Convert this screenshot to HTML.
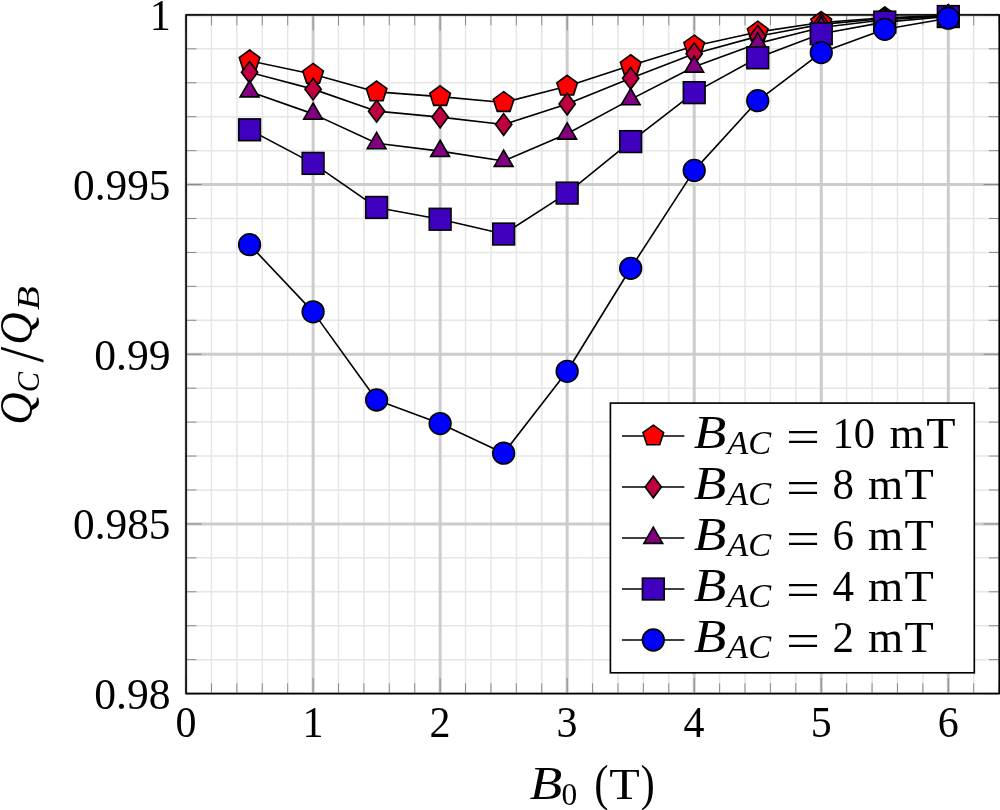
<!DOCTYPE html>
<html><head><meta charset="utf-8"><title>Q_C/Q_B vs B_0</title>
<style>
html,body{margin:0;padding:0;background:#fff}
body{width:1000px;height:810px;overflow:hidden}
svg{display:block}
text{fill:#000}
.r{font-family:"Liberation Serif","DejaVu Serif",serif}
.i{font-family:"Liberation Serif","DejaVu Serif",serif;font-style:italic}
</style></head><body>
<svg width="1000" height="810" viewBox="0 0 1000 810">
<rect width="1000" height="810" fill="#fff"/>
<path d="M211.46 14.9V693.6M236.87 14.9V693.6M262.27 14.9V693.6M287.68 14.9V693.6M338.5 14.9V693.6M363.91 14.9V693.6M389.31 14.9V693.6M414.72 14.9V693.6M465.54 14.9V693.6M490.95 14.9V693.6M516.35 14.9V693.6M541.76 14.9V693.6M592.58 14.9V693.6M617.99 14.9V693.6M643.39 14.9V693.6M668.8 14.9V693.6M719.62 14.9V693.6M745.03 14.9V693.6M770.43 14.9V693.6M795.84 14.9V693.6M846.66 14.9V693.6M872.07 14.9V693.6M897.47 14.9V693.6M922.88 14.9V693.6M973.7 14.9V693.6M186.05 48.84H999.2M186.05 82.77H999.2M186.05 116.71H999.2M186.05 150.64H999.2M186.05 218.51H999.2M186.05 252.45H999.2M186.05 286.38H999.2M186.05 320.31H999.2M186.05 388.19H999.2M186.05 422.12H999.2M186.05 456.06H999.2M186.05 489.99H999.2M186.05 557.86H999.2M186.05 591.79H999.2M186.05 625.73H999.2M186.05 659.67H999.2" stroke="#e6e6e6" stroke-width="1.5" fill="none"/>
<path d="M186.05 14.9V693.6M313.09 14.9V693.6M440.13 14.9V693.6M567.17 14.9V693.6M694.21 14.9V693.6M821.25 14.9V693.6M948.29 14.9V693.6M186.05 14.9H999.2M186.05 184.58H999.2M186.05 354.25H999.2M186.05 523.93H999.2M186.05 693.6H999.2" stroke="#cccccc" stroke-width="3" fill="none"/>
<path d="M186.05 693.6v-15.6M186.05 14.9v15.6M211.46 693.6v-10.4M211.46 14.9v10.4M236.87 693.6v-10.4M236.87 14.9v10.4M262.27 693.6v-10.4M262.27 14.9v10.4M287.68 693.6v-10.4M287.68 14.9v10.4M313.09 693.6v-15.6M313.09 14.9v15.6M338.5 693.6v-10.4M338.5 14.9v10.4M363.91 693.6v-10.4M363.91 14.9v10.4M389.31 693.6v-10.4M389.31 14.9v10.4M414.72 693.6v-10.4M414.72 14.9v10.4M440.13 693.6v-15.6M440.13 14.9v15.6M465.54 693.6v-10.4M465.54 14.9v10.4M490.95 693.6v-10.4M490.95 14.9v10.4M516.35 693.6v-10.4M516.35 14.9v10.4M541.76 693.6v-10.4M541.76 14.9v10.4M567.17 693.6v-15.6M567.17 14.9v15.6M592.58 693.6v-10.4M592.58 14.9v10.4M617.99 693.6v-10.4M617.99 14.9v10.4M643.39 693.6v-10.4M643.39 14.9v10.4M668.8 693.6v-10.4M668.8 14.9v10.4M694.21 693.6v-15.6M694.21 14.9v15.6M719.62 693.6v-10.4M719.62 14.9v10.4M745.03 693.6v-10.4M745.03 14.9v10.4M770.43 693.6v-10.4M770.43 14.9v10.4M795.84 693.6v-10.4M795.84 14.9v10.4M821.25 693.6v-15.6M821.25 14.9v15.6M846.66 693.6v-10.4M846.66 14.9v10.4M872.07 693.6v-10.4M872.07 14.9v10.4M897.47 693.6v-10.4M897.47 14.9v10.4M922.88 693.6v-10.4M922.88 14.9v10.4M948.29 693.6v-15.6M948.29 14.9v15.6M973.7 693.6v-10.4M973.7 14.9v10.4M999.11 693.6v-10.4M999.11 14.9v10.4M186.05 14.9h15.6M999.2 14.9h-15.6M186.05 48.84h10.4M999.2 48.84h-10.4M186.05 82.77h10.4M999.2 82.77h-10.4M186.05 116.71h10.4M999.2 116.71h-10.4M186.05 150.64h10.4M999.2 150.64h-10.4M186.05 184.58h15.6M999.2 184.58h-15.6M186.05 218.51h10.4M999.2 218.51h-10.4M186.05 252.45h10.4M999.2 252.45h-10.4M186.05 286.38h10.4M999.2 286.38h-10.4M186.05 320.31h10.4M999.2 320.31h-10.4M186.05 354.25h15.6M999.2 354.25h-15.6M186.05 388.19h10.4M999.2 388.19h-10.4M186.05 422.12h10.4M999.2 422.12h-10.4M186.05 456.06h10.4M999.2 456.06h-10.4M186.05 489.99h10.4M999.2 489.99h-10.4M186.05 523.93h15.6M999.2 523.93h-15.6M186.05 557.86h10.4M999.2 557.86h-10.4M186.05 591.79h10.4M999.2 591.79h-10.4M186.05 625.73h10.4M999.2 625.73h-10.4M186.05 659.67h10.4M999.2 659.67h-10.4M186.05 693.6h15.6M999.2 693.6h-15.6" stroke="#7a7a7a" stroke-width="0.85" fill="none"/>
<rect x="186.05" y="14.9" width="813.15" height="678.7" fill="none" stroke="#000" stroke-width="1.6"/>
<clipPath id="c"><rect x="186.05" y="14.9" width="813.15" height="678.7"/></clipPath>
<g clip-path="url(#c)" fill="none" stroke="#000" stroke-width="1.62" stroke-linejoin="round">
<polyline points="249.57,60.86 313.09,74.29 376.61,91.92 440.13,96.64 503.65,102.56 567.17,86.18 630.69,65.58 694.21,46 757.73,32.06 821.25,22.44 884.77,17.78 948.29,15.56"/>
<polyline points="249.57,72.35 313.09,89.14 376.61,111.18 440.13,117.08 503.65,124.48 567.17,104 630.69,78.25 694.21,53.77 757.73,36.35 821.25,24.33 884.77,18.5 948.29,15.72"/>
<polyline points="249.57,91.5 313.09,113.88 376.61,143.27 440.13,151.13 503.65,161 567.17,133.7 630.69,99.37 694.21,66.73 757.73,43.5 821.25,27.47 884.77,19.7 948.29,16"/>
<polyline points="249.57,129.8 313.09,163.38 376.61,207.45 440.13,219.25 503.65,234.05 567.17,193.1 630.69,141.6 694.21,92.65 757.73,57.8 821.25,33.75 884.77,22.1 948.29,16.55"/>
<polyline points="249.57,244.7 313.09,311.85 376.61,400 440.13,423.6 503.65,453.2 567.17,371.3 630.69,268.3 694.21,170.4 757.73,100.7 821.25,52.6 884.77,29.3 948.29,18.2"/>
</g>
<polygon points="249.57,50.01 259.89,57.51 255.95,69.64 243.19,69.64 239.25,57.51" fill="#ff0000" stroke="#000" stroke-width="1.62" stroke-miterlimit="10"/>
<polygon points="313.09,63.44 323.41,70.94 319.47,83.07 306.71,83.07 302.77,70.94" fill="#ff0000" stroke="#000" stroke-width="1.62" stroke-miterlimit="10"/>
<polygon points="376.61,81.07 386.93,88.57 382.99,100.7 370.23,100.7 366.29,88.57" fill="#ff0000" stroke="#000" stroke-width="1.62" stroke-miterlimit="10"/>
<polygon points="440.13,85.79 450.45,93.29 446.51,105.42 433.75,105.42 429.81,93.29" fill="#ff0000" stroke="#000" stroke-width="1.62" stroke-miterlimit="10"/>
<polygon points="503.65,91.71 513.97,99.21 510.03,111.34 497.27,111.34 493.33,99.21" fill="#ff0000" stroke="#000" stroke-width="1.62" stroke-miterlimit="10"/>
<polygon points="567.17,75.33 577.49,82.83 573.55,94.96 560.79,94.96 556.85,82.83" fill="#ff0000" stroke="#000" stroke-width="1.62" stroke-miterlimit="10"/>
<polygon points="630.69,54.73 641.01,62.23 637.07,74.36 624.31,74.36 620.37,62.23" fill="#ff0000" stroke="#000" stroke-width="1.62" stroke-miterlimit="10"/>
<polygon points="694.21,35.15 704.53,42.65 700.59,54.78 687.83,54.78 683.89,42.65" fill="#ff0000" stroke="#000" stroke-width="1.62" stroke-miterlimit="10"/>
<polygon points="757.73,21.21 768.05,28.71 764.11,40.84 751.35,40.84 747.41,28.71" fill="#ff0000" stroke="#000" stroke-width="1.62" stroke-miterlimit="10"/>
<polygon points="821.25,11.59 831.57,19.09 827.63,31.22 814.87,31.22 810.93,19.09" fill="#ff0000" stroke="#000" stroke-width="1.62" stroke-miterlimit="10"/>
<polygon points="884.77,6.93 895.09,14.43 891.15,26.56 878.39,26.56 874.45,14.43" fill="#ff0000" stroke="#000" stroke-width="1.62" stroke-miterlimit="10"/>
<polygon points="948.29,4.71 958.61,12.21 954.67,24.34 941.91,24.34 937.97,12.21" fill="#ff0000" stroke="#000" stroke-width="1.62" stroke-miterlimit="10"/>
<polygon points="249.57,61.5 257.71,72.35 249.57,83.2 241.43,72.35" fill="#bf0040" stroke="#000" stroke-width="1.62" stroke-miterlimit="10"/>
<polygon points="313.09,78.29 321.23,89.14 313.09,99.99 304.95,89.14" fill="#bf0040" stroke="#000" stroke-width="1.62" stroke-miterlimit="10"/>
<polygon points="376.61,100.33 384.75,111.18 376.61,122.03 368.47,111.18" fill="#bf0040" stroke="#000" stroke-width="1.62" stroke-miterlimit="10"/>
<polygon points="440.13,106.23 448.27,117.08 440.13,127.93 431.99,117.08" fill="#bf0040" stroke="#000" stroke-width="1.62" stroke-miterlimit="10"/>
<polygon points="503.65,113.63 511.79,124.48 503.65,135.33 495.51,124.48" fill="#bf0040" stroke="#000" stroke-width="1.62" stroke-miterlimit="10"/>
<polygon points="567.17,93.15 575.31,104 567.17,114.85 559.03,104" fill="#bf0040" stroke="#000" stroke-width="1.62" stroke-miterlimit="10"/>
<polygon points="630.69,67.4 638.83,78.25 630.69,89.1 622.55,78.25" fill="#bf0040" stroke="#000" stroke-width="1.62" stroke-miterlimit="10"/>
<polygon points="694.21,42.92 702.35,53.77 694.21,64.62 686.07,53.77" fill="#bf0040" stroke="#000" stroke-width="1.62" stroke-miterlimit="10"/>
<polygon points="757.73,25.5 765.87,36.35 757.73,47.2 749.59,36.35" fill="#bf0040" stroke="#000" stroke-width="1.62" stroke-miterlimit="10"/>
<polygon points="821.25,13.48 829.39,24.33 821.25,35.18 813.11,24.33" fill="#bf0040" stroke="#000" stroke-width="1.62" stroke-miterlimit="10"/>
<polygon points="884.77,7.65 892.91,18.5 884.77,29.35 876.63,18.5" fill="#bf0040" stroke="#000" stroke-width="1.62" stroke-miterlimit="10"/>
<polygon points="948.29,4.88 956.43,15.72 948.29,26.57 940.15,15.72" fill="#bf0040" stroke="#000" stroke-width="1.62" stroke-miterlimit="10"/>
<polygon points="249.57,80.65 258.97,96.92 240.17,96.92" fill="#800080" stroke="#000" stroke-width="1.62" stroke-miterlimit="10"/>
<polygon points="313.09,103.03 322.49,119.31 303.69,119.31" fill="#800080" stroke="#000" stroke-width="1.62" stroke-miterlimit="10"/>
<polygon points="376.61,132.42 386.01,148.69 367.21,148.69" fill="#800080" stroke="#000" stroke-width="1.62" stroke-miterlimit="10"/>
<polygon points="440.13,140.28 449.53,156.56 430.73,156.56" fill="#800080" stroke="#000" stroke-width="1.62" stroke-miterlimit="10"/>
<polygon points="503.65,150.15 513.05,166.43 494.25,166.43" fill="#800080" stroke="#000" stroke-width="1.62" stroke-miterlimit="10"/>
<polygon points="567.17,122.85 576.57,139.13 557.77,139.13" fill="#800080" stroke="#000" stroke-width="1.62" stroke-miterlimit="10"/>
<polygon points="630.69,88.52 640.09,104.79 621.29,104.79" fill="#800080" stroke="#000" stroke-width="1.62" stroke-miterlimit="10"/>
<polygon points="694.21,55.88 703.61,72.16 684.81,72.16" fill="#800080" stroke="#000" stroke-width="1.62" stroke-miterlimit="10"/>
<polygon points="757.73,32.65 767.13,48.92 748.33,48.92" fill="#800080" stroke="#000" stroke-width="1.62" stroke-miterlimit="10"/>
<polygon points="821.25,16.62 830.65,32.89 811.85,32.89" fill="#800080" stroke="#000" stroke-width="1.62" stroke-miterlimit="10"/>
<polygon points="884.77,8.85 894.17,25.12 875.37,25.12" fill="#800080" stroke="#000" stroke-width="1.62" stroke-miterlimit="10"/>
<polygon points="948.29,5.15 957.69,21.42 938.89,21.42" fill="#800080" stroke="#000" stroke-width="1.62" stroke-miterlimit="10"/>
<rect x="238.72" y="118.95" width="21.7" height="21.7" fill="#4000bf" stroke="#000" stroke-width="1.62" stroke-miterlimit="10"/>
<rect x="302.24" y="152.53" width="21.7" height="21.7" fill="#4000bf" stroke="#000" stroke-width="1.62" stroke-miterlimit="10"/>
<rect x="365.76" y="196.6" width="21.7" height="21.7" fill="#4000bf" stroke="#000" stroke-width="1.62" stroke-miterlimit="10"/>
<rect x="429.28" y="208.4" width="21.7" height="21.7" fill="#4000bf" stroke="#000" stroke-width="1.62" stroke-miterlimit="10"/>
<rect x="492.8" y="223.2" width="21.7" height="21.7" fill="#4000bf" stroke="#000" stroke-width="1.62" stroke-miterlimit="10"/>
<rect x="556.32" y="182.25" width="21.7" height="21.7" fill="#4000bf" stroke="#000" stroke-width="1.62" stroke-miterlimit="10"/>
<rect x="619.84" y="130.75" width="21.7" height="21.7" fill="#4000bf" stroke="#000" stroke-width="1.62" stroke-miterlimit="10"/>
<rect x="683.36" y="81.8" width="21.7" height="21.7" fill="#4000bf" stroke="#000" stroke-width="1.62" stroke-miterlimit="10"/>
<rect x="746.88" y="46.95" width="21.7" height="21.7" fill="#4000bf" stroke="#000" stroke-width="1.62" stroke-miterlimit="10"/>
<rect x="810.4" y="22.9" width="21.7" height="21.7" fill="#4000bf" stroke="#000" stroke-width="1.62" stroke-miterlimit="10"/>
<rect x="873.92" y="11.25" width="21.7" height="21.7" fill="#4000bf" stroke="#000" stroke-width="1.62" stroke-miterlimit="10"/>
<rect x="937.44" y="5.7" width="21.7" height="21.7" fill="#4000bf" stroke="#000" stroke-width="1.62" stroke-miterlimit="10"/>
<circle cx="249.57" cy="244.7" r="10.85" fill="#0000ff" stroke="#000" stroke-width="1.62" stroke-miterlimit="10"/>
<circle cx="313.09" cy="311.85" r="10.85" fill="#0000ff" stroke="#000" stroke-width="1.62" stroke-miterlimit="10"/>
<circle cx="376.61" cy="400" r="10.85" fill="#0000ff" stroke="#000" stroke-width="1.62" stroke-miterlimit="10"/>
<circle cx="440.13" cy="423.6" r="10.85" fill="#0000ff" stroke="#000" stroke-width="1.62" stroke-miterlimit="10"/>
<circle cx="503.65" cy="453.2" r="10.85" fill="#0000ff" stroke="#000" stroke-width="1.62" stroke-miterlimit="10"/>
<circle cx="567.17" cy="371.3" r="10.85" fill="#0000ff" stroke="#000" stroke-width="1.62" stroke-miterlimit="10"/>
<circle cx="630.69" cy="268.3" r="10.85" fill="#0000ff" stroke="#000" stroke-width="1.62" stroke-miterlimit="10"/>
<circle cx="694.21" cy="170.4" r="10.85" fill="#0000ff" stroke="#000" stroke-width="1.62" stroke-miterlimit="10"/>
<circle cx="757.73" cy="100.7" r="10.85" fill="#0000ff" stroke="#000" stroke-width="1.62" stroke-miterlimit="10"/>
<circle cx="821.25" cy="52.6" r="10.85" fill="#0000ff" stroke="#000" stroke-width="1.62" stroke-miterlimit="10"/>
<circle cx="884.77" cy="29.3" r="10.85" fill="#0000ff" stroke="#000" stroke-width="1.62" stroke-miterlimit="10"/>
<circle cx="948.29" cy="18.2" r="10.85" fill="#0000ff" stroke="#000" stroke-width="1.62" stroke-miterlimit="10"/>
<rect x="610.4" y="403.1" width="363.9" height="269.7" fill="#fff" stroke="#000" stroke-width="1.65"/>
<path d="M622 436H684.4" stroke="#000" stroke-width="1.62"/>
<polygon points="653.3,425.15 663.62,432.65 659.68,444.78 646.92,444.78 642.98,432.65" fill="#ff0000" stroke="#000" stroke-width="1.62" stroke-miterlimit="10"/>
<text class="i" x="693.8" y="447.9" font-size="45.6" textLength="32.5" lengthAdjust="spacingAndGlyphs">B</text>
<text class="i" x="727.3" y="454.4" font-size="32.7" textLength="44" lengthAdjust="spacingAndGlyphs">AC</text>
<text class="r" x="786" y="452.1" font-size="46" textLength="34" lengthAdjust="spacingAndGlyphs">=</text>
<text class="r" x="832.5" y="448.1" font-size="44.7" textLength="42.5" lengthAdjust="spacingAndGlyphs">10</text>
<text class="r" x="889.6" y="447.9" font-size="44.3" textLength="35.2" lengthAdjust="spacingAndGlyphs">m</text><text class="r" x="926.2" y="447.9" font-size="44.3" textLength="29.3" lengthAdjust="spacingAndGlyphs">T</text>
<path d="M622 487H684.4" stroke="#000" stroke-width="1.62"/>
<polygon points="653.3,476.15 661.44,487 653.3,497.85 645.16,487" fill="#bf0040" stroke="#000" stroke-width="1.62" stroke-miterlimit="10"/>
<text class="i" x="693.8" y="498.9" font-size="45.6" textLength="32.5" lengthAdjust="spacingAndGlyphs">B</text>
<text class="i" x="727.3" y="505.4" font-size="32.7" textLength="44" lengthAdjust="spacingAndGlyphs">AC</text>
<text class="r" x="786" y="503.1" font-size="46" textLength="34" lengthAdjust="spacingAndGlyphs">=</text>
<text class="r" x="832.5" y="499.1" font-size="44.7" textLength="21.5" lengthAdjust="spacingAndGlyphs">8</text>
<text class="r" x="868.1" y="498.9" font-size="44.3" textLength="35.2" lengthAdjust="spacingAndGlyphs">m</text><text class="r" x="904.6" y="498.9" font-size="44.3" textLength="29.3" lengthAdjust="spacingAndGlyphs">T</text>
<path d="M622 538H684.4" stroke="#000" stroke-width="1.62"/>
<polygon points="653.3,527.15 662.7,543.42 643.9,543.42" fill="#800080" stroke="#000" stroke-width="1.62" stroke-miterlimit="10"/>
<text class="i" x="693.8" y="549.9" font-size="45.6" textLength="32.5" lengthAdjust="spacingAndGlyphs">B</text>
<text class="i" x="727.3" y="556.4" font-size="32.7" textLength="44" lengthAdjust="spacingAndGlyphs">AC</text>
<text class="r" x="786" y="554.1" font-size="46" textLength="34" lengthAdjust="spacingAndGlyphs">=</text>
<text class="r" x="832.5" y="550.1" font-size="44.7" textLength="21.5" lengthAdjust="spacingAndGlyphs">6</text>
<text class="r" x="868.1" y="549.9" font-size="44.3" textLength="35.2" lengthAdjust="spacingAndGlyphs">m</text><text class="r" x="904.6" y="549.9" font-size="44.3" textLength="29.3" lengthAdjust="spacingAndGlyphs">T</text>
<path d="M622 589H684.4" stroke="#000" stroke-width="1.62"/>
<rect x="642.45" y="578.15" width="21.7" height="21.7" fill="#4000bf" stroke="#000" stroke-width="1.62" stroke-miterlimit="10"/>
<text class="i" x="693.8" y="600.9" font-size="45.6" textLength="32.5" lengthAdjust="spacingAndGlyphs">B</text>
<text class="i" x="727.3" y="607.4" font-size="32.7" textLength="44" lengthAdjust="spacingAndGlyphs">AC</text>
<text class="r" x="786" y="605.1" font-size="46" textLength="34" lengthAdjust="spacingAndGlyphs">=</text>
<text class="r" x="832.5" y="601.1" font-size="44.7" textLength="21.5" lengthAdjust="spacingAndGlyphs">4</text>
<text class="r" x="868.1" y="600.9" font-size="44.3" textLength="35.2" lengthAdjust="spacingAndGlyphs">m</text><text class="r" x="904.6" y="600.9" font-size="44.3" textLength="29.3" lengthAdjust="spacingAndGlyphs">T</text>
<path d="M622 640H684.4" stroke="#000" stroke-width="1.62"/>
<circle cx="653.3" cy="640" r="10.85" fill="#0000ff" stroke="#000" stroke-width="1.62" stroke-miterlimit="10"/>
<text class="i" x="693.8" y="651.9" font-size="45.6" textLength="32.5" lengthAdjust="spacingAndGlyphs">B</text>
<text class="i" x="727.3" y="658.4" font-size="32.7" textLength="44" lengthAdjust="spacingAndGlyphs">AC</text>
<text class="r" x="786" y="656.1" font-size="46" textLength="34" lengthAdjust="spacingAndGlyphs">=</text>
<text class="r" x="832.5" y="652.1" font-size="44.7" textLength="21.5" lengthAdjust="spacingAndGlyphs">2</text>
<text class="r" x="868.1" y="651.9" font-size="44.3" textLength="35.2" lengthAdjust="spacingAndGlyphs">m</text><text class="r" x="904.6" y="651.9" font-size="44.3" textLength="29.3" lengthAdjust="spacingAndGlyphs">T</text>
<text class="r" x="175.45" y="737.3" font-size="44.7" textLength="21" lengthAdjust="spacingAndGlyphs">0</text>
<text class="r" x="302.49" y="737.3" font-size="44.7" textLength="21" lengthAdjust="spacingAndGlyphs">1</text>
<text class="r" x="429.53" y="737.3" font-size="44.7" textLength="21" lengthAdjust="spacingAndGlyphs">2</text>
<text class="r" x="556.57" y="737.3" font-size="44.7" textLength="21" lengthAdjust="spacingAndGlyphs">3</text>
<text class="r" x="683.61" y="737.3" font-size="44.7" textLength="21" lengthAdjust="spacingAndGlyphs">4</text>
<text class="r" x="810.65" y="737.3" font-size="44.7" textLength="21" lengthAdjust="spacingAndGlyphs">5</text>
<text class="r" x="937.69" y="737.3" font-size="44.7" textLength="21" lengthAdjust="spacingAndGlyphs">6</text>
<text class="r" x="149.7" y="30.2" font-size="44.7" textLength="21" lengthAdjust="spacingAndGlyphs">1</text>
<text class="r" x="73" y="199.88" font-size="44.7" textLength="97.5" lengthAdjust="spacingAndGlyphs">0.995</text>
<text class="r" x="94.3" y="369.55" font-size="44.7" textLength="76.3" lengthAdjust="spacingAndGlyphs">0.99</text>
<text class="r" x="73" y="539.23" font-size="44.7" textLength="97.5" lengthAdjust="spacingAndGlyphs">0.985</text>
<text class="r" x="94.3" y="708.9" font-size="44.7" textLength="76.3" lengthAdjust="spacingAndGlyphs">0.98</text>
<text class="i" x="529.8" y="798.9" font-size="45.6" textLength="32.5" lengthAdjust="spacingAndGlyphs">B</text>
<text class="r" x="561.5" y="805.4" font-size="30.5" textLength="15.7" lengthAdjust="spacingAndGlyphs">0</text>
<text class="r" x="594.3" y="799.6" font-size="50" textLength="14.3" lengthAdjust="spacingAndGlyphs">(</text>
<text class="r" x="609.3" y="798.9" font-size="44.3" textLength="30.5" lengthAdjust="spacingAndGlyphs">T</text>
<text class="r" x="640.5" y="799.6" font-size="50" textLength="14.3" lengthAdjust="spacingAndGlyphs">)</text>
<g transform="translate(32,423.5) rotate(-90)">
<text class="i" x="-1.2" y="0" font-size="45.5" textLength="32.4" lengthAdjust="spacingAndGlyphs">Q</text>
<text class="i" x="31.3" y="7" font-size="32.5" textLength="20.3" lengthAdjust="spacingAndGlyphs">C</text>
<text class="r" x="61" y="11" font-size="63" textLength="15.8" lengthAdjust="spacingAndGlyphs">/</text>
<text class="i" x="78.8" y="0" font-size="45.5" textLength="32.4" lengthAdjust="spacingAndGlyphs">Q</text>
<text class="i" x="113.6" y="7" font-size="32.5" textLength="23.8" lengthAdjust="spacingAndGlyphs">B</text>
</g>
</svg>
</body></html>
